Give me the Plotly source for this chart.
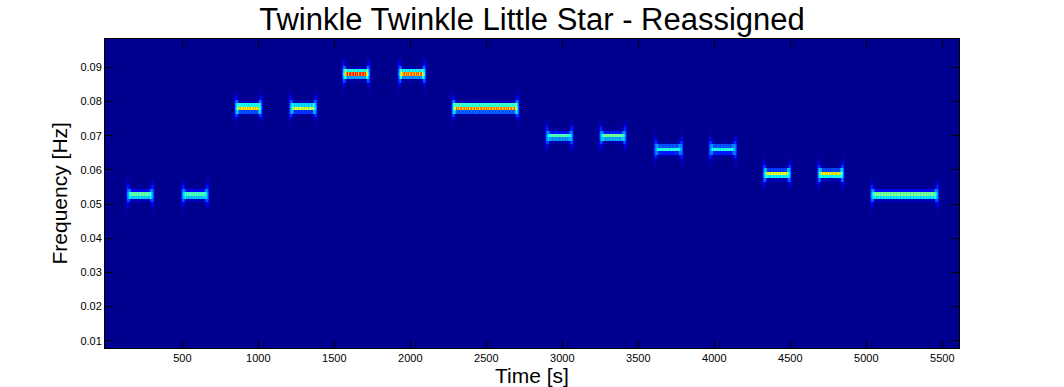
import numpy as np
import plotly.graph_objects as go

# ---- data ----
note_names = ["C", "C", "G", "G", "A", "A", "G", "F", "F", "E", "E", "D", "D", "C"]
note_freq = [0.0527, 0.0527, 0.0782, 0.0782, 0.0881, 0.0881, 0.0782,
             0.0698, 0.0698, 0.0661, 0.0661, 0.0588, 0.0588, 0.0527]
note_start = [134, 496, 847, 1208, 1557, 1919, 2272, 2893, 3248, 3610, 3965, 4320, 4680, 5030]
note_end = [307, 669, 1022, 1384, 1734, 2096, 2711, 3068, 3419, 3785, 4140, 4500, 4850, 5473]
note_peak = [0.52, 0.50, 0.72, 0.62, 0.86, 0.80, 0.80, 0.48, 0.52, 0.42, 0.42, 0.66, 0.70, 0.55]

x_tick_vals = [500, 1000, 1500, 2000, 2500, 3000, 3500, 4000, 4500, 5000, 5500]
y_tick_vals = [0.01, 0.02, 0.03, 0.04, 0.05, 0.06, 0.07, 0.08, 0.09]
y_tick_text = ["0.01", "0.02", "0.03", "0.04", "0.05", "0.06", "0.07", "0.08", "0.09"]
column_texture = [1.0, 0.85, 1.0, 0.72, 0.95, 1.0, 0.8, 0.9, 1.0, 0.78]

x_range = [-9, 5610]
y_range = [0.0079, 0.0983]

# ---- spectrogram grid built from the notes ----
t = np.arange(x_range[0], x_range[1] + 7, 6.6)
f = np.arange(0.008, 0.0985, 0.001)
T, F = np.meshgrid(t, f)
tex = np.array([column_texture[i % len(column_texture)] for i in range(len(t))])[None, :]
z = np.zeros_like(T)
for s, e, fr, p in zip(note_start, note_end, note_freq, note_peak):
    d = np.minimum(T - s, e - T)
    core = np.clip(d / 26.0, 0, 1)
    w = 0.00105 + 0.0022 * (1 - core)
    amp = np.where(d >= 0, 0.22 + (p - 0.22) * core * tex, 0.22 * np.clip(1 + d / 10.0, 0, 1))
    zz = amp * np.exp(-((F - fr) / w) ** 2)
    z = np.maximum(z, zz)

jet = [
    [0.0, "rgb(0,0,143)"],
    [0.111, "rgb(0,0,255)"],
    [0.365, "rgb(0,255,255)"],
    [0.619, "rgb(255,255,0)"],
    [0.873, "rgb(255,0,0)"],
    [1.0, "rgb(128,0,0)"],
]

fig = go.Figure(go.Heatmap(x=t, y=f, z=z, colorscale=jet, zmin=0, zmax=1,
                           showscale=False, zsmooth=False, hoverinfo="skip"))

font = "Liberation Sans, Arial, sans-serif"
fig.update_layout(
    width=1064, height=387,
    margin=dict(l=105, r=105, t=39, b=39, autoexpand=False),
    paper_bgcolor="white", plot_bgcolor="rgb(0,0,143)",
    title=dict(text="Twinkle Twinkle Little Star - Reassigned",
               font=dict(family=font, size=31, color="black"),
               x=0.5, xref="paper", xanchor="center",
               y=1 - 19 / 387, yref="container", yanchor="middle"),
    xaxis=dict(range=x_range, tickvals=x_tick_vals, ticks="inside", ticklen=8,
               tickcolor="black", showline=True, linecolor="black", linewidth=1,
               mirror="ticks", showgrid=False, zeroline=False, automargin=False,
               tickfont=dict(family=font, size=11, color="black")),
    yaxis=dict(range=y_range, tickvals=y_tick_vals, ticktext=y_tick_text, ticks="inside",
               ticklen=8, tickcolor="black", showline=True, linecolor="black", linewidth=1,
               mirror="ticks", showgrid=False, zeroline=False, automargin=False,
               tickfont=dict(family=font, size=11, color="black")),
    annotations=[
        dict(text="Time [s]", x=0.5, xref="paper", y=-(375 - 348) / 309, yref="paper",
             xanchor="center", yanchor="middle", showarrow=False,
             font=dict(family=font, size=21, color="black")),
        dict(text="Frequency [Hz]", x=-(105 - 59) / 854, xref="paper", y=0.5, yref="paper",
             xanchor="center", yanchor="middle", showarrow=False, textangle=-90,
             font=dict(family=font, size=21, color="black")),
    ],
)

fig.write_html("out.html", config={"displayModeBar": False},
               post_script="document.body.style.margin='0px';document.body.style.overflow='hidden';")
